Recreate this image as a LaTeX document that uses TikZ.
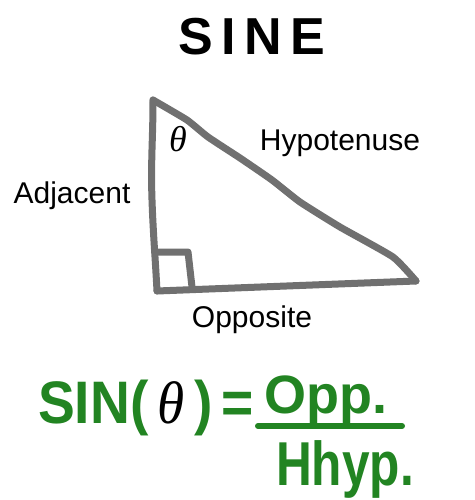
\documentclass[tikz,border=0pt]{standalone}
\usepackage{fontspec}
\setmainfont{Liberation Sans}
\newfontfamily\titlefont[LetterSpace=16]{Liberation Sans}
\newfontfamily\greekfont{Liberation Serif}
\definecolor{chalkgray}{RGB}{112,112,112}
\definecolor{markergreen}{RGB}{34,132,34}
\newcommand{\angletheta}{{\greekfont\itshape θ}}

\begin{document}
\begin{tikzpicture}[x=1pt, y=-1pt]
			\useasboundingbox[fill=white] (0,0) rectangle (474,500);
			\begin{scope}
			\tikzstyle{every node}=[align=center, inner sep=1pt]
				\node (title) at (252,37) {\fontsize{52}{56}\selectfont\titlefont\bfseries SINE};
			\end{scope}
			\begin{scope}
			\tikzstyle{side}=[chalkgray, line width=7pt, line cap=round, line join=round]
			\tikzstyle{every node}=[inner sep=1pt, font=\fontsize{30}{34}\selectfont]
				\coordinate (top) at (153,100);
				\coordinate (corner) at (157,291);
				\coordinate (tip) at (416,281);
				\coordinate (boxa) at (158,252);
				\coordinate (boxb) at (188,252);
				\coordinate (boxc) at (192,287);
			
				\draw[side]  plot[smooth, tension=0.3] coordinates {(top) (187,120) (208,137) (240,158) (272,180) (300,202) (340,227) (393,257) (tip)};
				\draw[side]  (tip) -- (corner);
				\draw[side]  (corner) to[out=93, in=-88] (152,200) to[out=92, in=-90] (top);
				\draw[side]  (boxa) -- (boxb) -- (boxc);
			
				\node (angle) at (178,139) {\fontsize{36}{40}\selectfont\angletheta};
				\node (hyp) at (340,143) {Hypotenuse};
				\node (adj) at (72,196) {Adjacent};
				\node (opp) at (252,320) {Opposite};
			\end{scope}
			\begin{scope}
			\tikzstyle{every node}=[inner sep=1pt, markergreen, font=\bfseries]
				\node[xscale=0.92] (sin) at (146,408) {\fontsize{60}{64}\selectfont SIN(\,\textcolor{black}{\mdseries\angletheta}\,)\,=};
				\node[anchor=base] (num) at (326,413) {\fontsize{54}{58}\selectfont Opp.};
				\node[xscale=0.8, anchor=base] (den) at (345,485) {\fontsize{62}{66}\selectfont Hhyp.};
				\draw[markergreen, line width=6pt, line cap=round]  (258,426) -- (402,426);
			\end{scope}
		\end{tikzpicture}
\end{document}
